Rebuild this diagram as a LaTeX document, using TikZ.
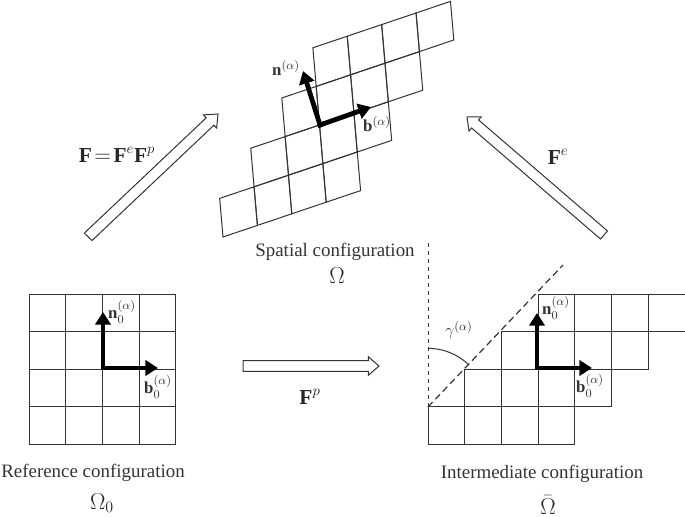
\documentclass[tikz,border=0pt]{standalone}
\usepackage{amsmath, amssymb}
\usepackage{fontspec}
\setmainfont{Liberation Serif}
\usetikzlibrary{arrows.meta, calc}

\newcommand{\cellbox}[2]{\draw[gridline] (#1,#2) -- ++(1,0) -- ++(0,1) -- ++(-1,0) -- cycle;}

\tikzset{
  gridline/.style={line width=.75pt, black!80},
  slipvec/.style={line width=3.6pt, line cap=rect, -{Triangle[length=9.5pt, width=11.5pt]}},
  label/.style={font=\fontsize{14.2}{17}\selectfont, text=black!80, inner sep=0pt},
  vecname/.style={font=\fontsize{12.6}{15}\selectfont, text=black!80, inner sep=0pt},
  mapname/.style={font=\fontsize{16}{19}\selectfont, text=black!85, inner sep=0pt},
  confsym/.style={font=\fontsize{18}{21}\selectfont, text=black!85, inner sep=0pt},
  hollow/.style={gridline, to path={
    let \p1=($(\tikztotarget)-(\tikztostart)$), \n1={veclen(\x1,\y1)}, \n2={atan2(\y1,\x1)} in
    ++(\n2+90:4pt) -- ++(\n2:\n1-8pt) -- ++(\n2+90:3pt) -- (\tikztotarget)
    -- ($(\tikztotarget)+(\n2+180:8pt)+(\n2-90:7pt)$) -- ++(\n2+90:3pt) -- ++(\n2+180:\n1-8pt) -- cycle}},
}

\begin{document}
\begin{tikzpicture}[x=.75pt, y=-.75pt]
  \useasboundingbox (0,0) rectangle (685,517);

  % reference grid
  \begin{scope}[shift={(29,444)}, x=27.56pt, y=28.1pt]
    \foreach \i in {0,...,3} \foreach \j in {0,...,3} {\cellbox{\i}{\j}}
  \end{scope}

  % intermediate grid
  \begin{scope}[shift={(428,444)}, x=27.56pt, y=28.1pt]
    \foreach \k in {0,...,3} \foreach \i in {0,...,3} {\cellbox{\k+\i}{\k}}
  \end{scope}

  % spatial grid
  \begin{scope}[shift={(223,237)}, x={(25.8pt,8.7pt)}, y={(-2.5pt,28.95pt)}]
    \foreach \k in {0,...,3} \foreach \i in {0,...,3} {\cellbox{\k+\i}{\k}}
  \end{scope}

  % slip vectors
  \coordinate (refO) at (103,368);
  \coordinate (refN) at (103,312);
  \coordinate (refB) at (158,368);
  \draw[slipvec] (refO) -- (refN);
  \draw[slipvec] (refO) -- (refB);
  \coordinate (midO) at (537,368);
  \coordinate (midN) at (537,313);
  \coordinate (midB) at (592,368);
  \draw[slipvec] (midO) -- (midN);
  \draw[slipvec] (midO) -- (midB);
  \coordinate (spaO) at (320,125);
  \coordinate (spaN) at (303,71);
  \coordinate (spaB) at (371,107);
  \draw[slipvec] (spaO) -- (spaN);
  \draw[slipvec] (spaO) -- (spaB);

  % maps between configurations
  \coordinate (fpTail) at (243,366);
  \coordinate (fpHead) at (379,366);
  \coordinate (fTail) at (88,237);
  \coordinate (fHead) at (218,114);
  \coordinate (feTail) at (604,235);
  \coordinate (feHead) at (467,117);
  \draw[hollow] (fpTail) to (fpHead);
  \draw[hollow] (fTail) to (fHead);
  \draw[hollow] (feTail) to (feHead);

  % slip plane and angle
  \coordinate (slipO) at (428,407);
  \coordinate (slipUp) at (428,243);
  \coordinate (slipEnd) at (563,265);
  \draw[dashed, line width=.6pt, black!80] (slipO) -- (slipUp);
  \draw[dash pattern=on 5pt off 3pt, line width=.9pt, black!80] (slipO) -- (slipEnd);
  \draw[gridline] (slipO) ++(90:44pt) arc[start angle=90, end angle=46, radius=44pt];

  % labels
  \node[vecname] (refNlabel) at (122,312) {$\mathbf{n}_0^{(\alpha)}$};
  \node[vecname] (refBlabel) at (158,387) {$\mathbf{b}_0^{(\alpha)}$};
  \node[vecname] (midNlabel) at (556,308) {$\mathbf{n}_0^{(\alpha)}$};
  \node[vecname] (midBlabel) at (590,386) {$\mathbf{b}_0^{(\alpha)}$};
  \node[vecname] (spaNlabel) at (286,68) {$\mathbf{n}^{(\alpha)}$};
  \node[vecname] (spaBlabel) at (377,124) {$\mathbf{b}^{(\alpha)}$};
  \node[vecname] (gammalabel) at (459,330) {$\gamma^{(\alpha)}$};
  \node[mapname] (flabel) at (117,155) {$\mathbf{F}\!=\!\mathbf{F}^{e}\mathbf{F}^{p}$};
  \node[mapname] (felabel) at (558,157) {$\mathbf{F}^{e}$};
  \node[mapname] (fplabel) at (310,397) {$\mathbf{F}^{p}$};
  \node[label] (spaName) at (335,252) {Spatial configuration};
  \node[confsym] (spaSym) at (337,276) {$\Omega$};
  \node[label] (refName) at (93,473) {Reference configuration};
  \node[confsym] (refSym) at (102,503) {$\Omega_0$};
  \node[label] (midName) at (542,474) {Intermediate configuration};
  \node[confsym] (midSym) at (548,505) {$\bar{\Omega}$};
\end{tikzpicture}
\end{document}
